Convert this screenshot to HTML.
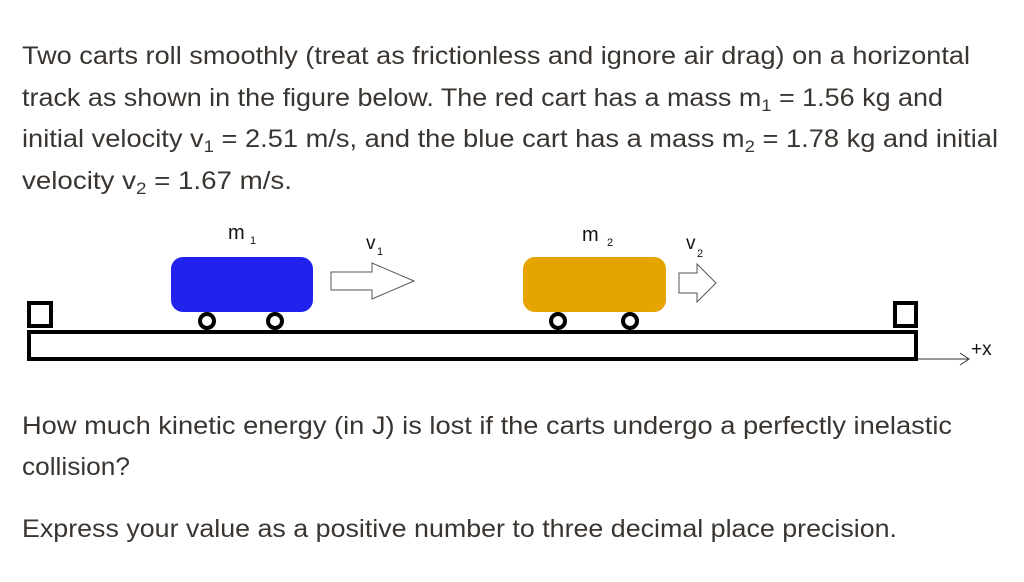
<!DOCTYPE html>
<html><head><meta charset="utf-8"><style>
html,body{margin:0;padding:0;background:#fff;}
svg{display:block;}
.t{font-family:"Liberation Sans",sans-serif;font-size:25px;fill:#3a3530;}
.f{font-family:"Liberation Sans",sans-serif;fill:#111;}
</style></head><body>
<svg width="1024" height="582" viewBox="0 0 1024 582" xmlns="http://www.w3.org/2000/svg">
<text class="t" x="22" y="64" textLength="948" lengthAdjust="spacingAndGlyphs">Two carts roll smoothly (treat as frictionless and ignore air drag) on a horizontal</text>
<text class="t" x="22" y="106" textLength="921" lengthAdjust="spacingAndGlyphs">track as shown in the figure below. The red cart has a mass m<tspan font-size="17" dy="5">1</tspan><tspan dy="-5"> = 1.56 kg and</tspan></text>
<text class="t" x="22" y="147" textLength="976" lengthAdjust="spacingAndGlyphs">initial velocity v<tspan font-size="17" dy="5">1</tspan><tspan dy="-5"> = 2.51 m/s, and the blue cart has a mass m</tspan><tspan font-size="17" dy="5">2</tspan><tspan dy="-5"> = 1.78 kg and initial</tspan></text>
<text class="t" x="22" y="189" textLength="270" lengthAdjust="spacingAndGlyphs">velocity v<tspan font-size="17" dy="5">2</tspan><tspan dy="-5"> = 1.67 m/s.</tspan></text>

<rect x="29" y="303" width="22" height="23" fill="none" stroke="#000" stroke-width="4"/>
<rect x="895" y="303" width="21" height="23" fill="none" stroke="#000" stroke-width="4"/>
<rect x="29" y="332" width="887" height="27" fill="none" stroke="#000" stroke-width="4"/>
<line x1="918" y1="359" x2="968" y2="359" stroke="#333" stroke-width="1"/>
<polyline points="960,353 969,359 960,365" fill="none" stroke="#333" stroke-width="1"/>
<text class="f" x="971" y="355" font-size="19">+x</text>

<rect x="171" y="257" width="142" height="55" rx="12" fill="#2222ee"/>
<circle cx="207" cy="321" r="7" fill="#fff" stroke="#000" stroke-width="4"/>
<circle cx="275" cy="321" r="7" fill="#fff" stroke="#000" stroke-width="4"/>
<rect x="523" y="257" width="143" height="55" rx="12" fill="#e6a400"/>
<circle cx="558" cy="321" r="7" fill="#fff" stroke="#000" stroke-width="4"/>
<circle cx="630" cy="321" r="7" fill="#fff" stroke="#000" stroke-width="4"/>

<polygon points="331,272 372,272 372,263 414,281 372,299 372,290 331,290" fill="#fff" stroke="#555" stroke-width="1"/>
<polygon points="679,273 697,273 697,264 716,283 697,302 697,293 679,293" fill="#fff" stroke="#555" stroke-width="1"/>

<text class="f" x="228" y="239" font-size="20">m</text><text class="f" x="250" y="244" font-size="11">1</text>
<text class="f" x="366" y="249" font-size="19">v</text><text class="f" x="377" y="255" font-size="11">1</text>
<text class="f" x="582" y="241" font-size="20">m</text><text class="f" x="607" y="246" font-size="11">2</text>
<text class="f" x="686" y="249" font-size="19">v</text><text class="f" x="697" y="257" font-size="11">2</text>

<text class="t" x="22" y="434" textLength="930" lengthAdjust="spacingAndGlyphs">How much kinetic energy (in J) is lost if the carts undergo a perfectly inelastic</text>
<text class="t" x="22" y="475" textLength="108" lengthAdjust="spacingAndGlyphs">collision?</text>
<text class="t" x="22" y="537" textLength="875" lengthAdjust="spacingAndGlyphs">Express your value as a positive number to three decimal place precision.</text>
</svg>
</body></html>
